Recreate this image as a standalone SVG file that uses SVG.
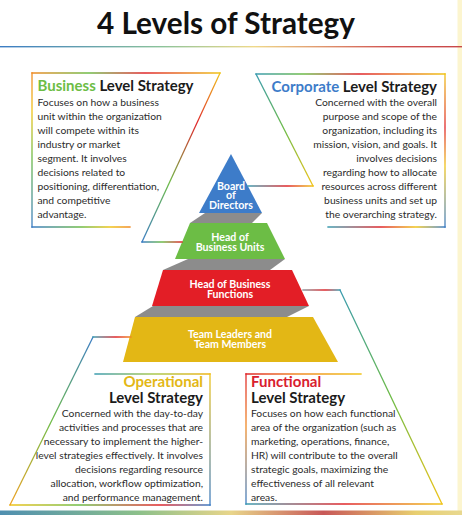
<svg xmlns="http://www.w3.org/2000/svg" width="462" height="515" viewBox="0 0 462 515">
<style>
text{font-family:Lato,"Liberation Sans",sans-serif}
.ttl{font-weight:bold;font-size:31px;fill:#111}
.hd{font-weight:bold;font-size:15px;fill:#1b1b1b}
.bd{font-size:10.3px;fill:#2b2b2b}
.end{text-anchor:end}
.tier{font-weight:bold;font-size:10.6px;fill:#fff;text-anchor:middle}
.ln{fill:none;stroke-width:1.3;stroke-linecap:square}
.cB{fill:#6cbd45}.cC{fill:#3d7cc9}.cO{fill:#e3b715}.cF{fill:#d9202e}
</style>
<defs>
<linearGradient id="gTitle" x1="0" y1="0" x2="462" y2="0" gradientUnits="userSpaceOnUse"><stop offset="0" stop-color="#3b7cc4"/><stop offset="0.35" stop-color="#8cc39a"/><stop offset="0.55" stop-color="#efd98a"/><stop offset="0.85" stop-color="#d05050"/><stop offset="1" stop-color="#c84848"/></linearGradient>
<linearGradient id="gBottom" x1="0" y1="0" x2="462" y2="0" gradientUnits="userSpaceOnUse"><stop offset="0" stop-color="#4f8fb0"/><stop offset="0.3" stop-color="#8cc08a"/><stop offset="0.5" stop-color="#e8d58a"/><stop offset="0.7" stop-color="#c85858"/><stop offset="0.9" stop-color="#e8cf70"/><stop offset="1" stop-color="#e8d890"/></linearGradient>
<linearGradient id="b1" x1="32" y1="0" x2="130" y2="0" gradientUnits="userSpaceOnUse"><stop offset="0" stop-color="#3b7cc4"/><stop offset="0.5" stop-color="#6dbb47"/><stop offset="0.8" stop-color="#f0c419"/><stop offset="1" stop-color="#f08a24"/></linearGradient>
<linearGradient id="b2" x1="0" y1="227" x2="0" y2="73" gradientUnits="userSpaceOnUse"><stop offset="0" stop-color="#3b7cc4"/><stop offset="0.45" stop-color="#6dbb47"/><stop offset="0.75" stop-color="#f0c419"/><stop offset="1" stop-color="#f08a24"/></linearGradient>
<linearGradient id="b3" x1="32" y1="0" x2="220" y2="0" gradientUnits="userSpaceOnUse"><stop offset="0" stop-color="#f08a24"/><stop offset="0.3" stop-color="#6dbb47"/><stop offset="0.6" stop-color="#e0262b"/><stop offset="1" stop-color="#f0c419"/></linearGradient>
<linearGradient id="b4" x1="220" y1="73" x2="142" y2="242" gradientUnits="userSpaceOnUse"><stop offset="0" stop-color="#f0c419"/><stop offset="0.3" stop-color="#e0262b"/><stop offset="0.65" stop-color="#6dbb47"/><stop offset="1" stop-color="#3b7cc4"/></linearGradient>
<linearGradient id="b5" x1="142" y1="0" x2="182" y2="0" gradientUnits="userSpaceOnUse"><stop offset="0" stop-color="#3b7cc4"/><stop offset="0.5" stop-color="#6dbb47"/><stop offset="1" stop-color="#e0262b"/></linearGradient>
<linearGradient id="c1" x1="256" y1="0" x2="445" y2="0" gradientUnits="userSpaceOnUse"><stop offset="0" stop-color="#3b9cb0"/><stop offset="0.25" stop-color="#6dbb47"/><stop offset="0.55" stop-color="#e0262b"/><stop offset="1" stop-color="#f0c419"/></linearGradient>
<linearGradient id="c2" x1="0" y1="74" x2="0" y2="227" gradientUnits="userSpaceOnUse"><stop offset="0" stop-color="#f0c419"/><stop offset="0.35" stop-color="#e0262b"/><stop offset="0.6" stop-color="#f0c419"/><stop offset="1" stop-color="#3b7cc4"/></linearGradient>
<linearGradient id="c3" x1="328" y1="0" x2="445" y2="0" gradientUnits="userSpaceOnUse"><stop offset="0" stop-color="#3b9cb0"/><stop offset="0.45" stop-color="#e0262b"/><stop offset="0.75" stop-color="#f0c419"/><stop offset="1" stop-color="#3b7cc4"/></linearGradient>
<linearGradient id="c4" x1="256" y1="74" x2="313" y2="186" gradientUnits="userSpaceOnUse"><stop offset="0" stop-color="#3b9cb0"/><stop offset="0.5" stop-color="#6dbb47"/><stop offset="1" stop-color="#f0c419"/></linearGradient>
<linearGradient id="c5" x1="248" y1="0" x2="313" y2="0" gradientUnits="userSpaceOnUse"><stop offset="0" stop-color="#3b9cb0"/><stop offset="0.6" stop-color="#e0262b"/><stop offset="1" stop-color="#f0c419"/></linearGradient>
<linearGradient id="o1" x1="95" y1="0" x2="210" y2="0" gradientUnits="userSpaceOnUse"><stop offset="0" stop-color="#3b9cb0"/><stop offset="0.5" stop-color="#a8c850"/><stop offset="1" stop-color="#f0b419"/></linearGradient>
<linearGradient id="o2" x1="0" y1="374" x2="0" y2="505" gradientUnits="userSpaceOnUse"><stop offset="0" stop-color="#f0c419"/><stop offset="1" stop-color="#3b7cc4"/></linearGradient>
<linearGradient id="o3" x1="10" y1="0" x2="210" y2="0" gradientUnits="userSpaceOnUse"><stop offset="0" stop-color="#f0c419"/><stop offset="0.35" stop-color="#6dbb47"/><stop offset="0.75" stop-color="#e0262b"/><stop offset="1" stop-color="#3b7cc4"/></linearGradient>
<linearGradient id="o4" x1="93" y1="337" x2="10" y2="505" gradientUnits="userSpaceOnUse"><stop offset="0" stop-color="#3b7cc4"/><stop offset="0.5" stop-color="#6dbb47"/><stop offset="1" stop-color="#f0a020"/></linearGradient>
<linearGradient id="o5" x1="93" y1="0" x2="131" y2="0" gradientUnits="userSpaceOnUse"><stop offset="0" stop-color="#3b9cb0"/><stop offset="0.6" stop-color="#e0262b"/><stop offset="1" stop-color="#f08a24"/></linearGradient>
<linearGradient id="f1" x1="246" y1="0" x2="361" y2="0" gradientUnits="userSpaceOnUse"><stop offset="0" stop-color="#e0262b"/><stop offset="0.45" stop-color="#f08a24"/><stop offset="1" stop-color="#f0c419"/></linearGradient>
<linearGradient id="f2" x1="0" y1="374" x2="0" y2="504" gradientUnits="userSpaceOnUse"><stop offset="0" stop-color="#e0262b"/><stop offset="0.4" stop-color="#f08a24"/><stop offset="1" stop-color="#3b7cc4"/></linearGradient>
<linearGradient id="f3" x1="246" y1="0" x2="442" y2="0" gradientUnits="userSpaceOnUse"><stop offset="0" stop-color="#3b9cb0"/><stop offset="0.5" stop-color="#e0262b"/><stop offset="1" stop-color="#f0c419"/></linearGradient>
<linearGradient id="f4" x1="340" y1="290" x2="442" y2="504" gradientUnits="userSpaceOnUse"><stop offset="0" stop-color="#3b9cb0"/><stop offset="0.5" stop-color="#6dbb47"/><stop offset="1" stop-color="#f0c419"/></linearGradient>
<linearGradient id="f5" x1="303" y1="0" x2="340" y2="0" gradientUnits="userSpaceOnUse"><stop offset="0" stop-color="#8a9aa0"/><stop offset="0.6" stop-color="#e0262b"/><stop offset="1" stop-color="#3b9cb0"/></linearGradient>
</defs>

<rect x="0" y="0" width="462" height="515" fill="#ffffff"/>
<rect x="457.5" y="0" width="4.5" height="515" fill="#fcf5cf"/>
<rect x="0" y="510.5" width="462" height="4.5" fill="url(#gBottom)"/>

<g id="title">
<text class="ttl" x="226" y="34" text-anchor="middle" textLength="258" lengthAdjust="spacingAndGlyphs">4 Levels of Strategy</text>
<rect x="0" y="46" width="462" height="1.4" fill="url(#gTitle)"/>
</g>

<g id="pyramid">
<polygon points="205,213 262,213 252,223 190,223" fill="#8c8c8c"/>
<polygon points="188,259 285,259 270,270 163,270" fill="#8c8c8c"/>
<polygon points="153,306 309,306 287,317 135,317" fill="#8c8c8c"/>
<g id="board">
<polygon points="231,154 262,213 199,213" fill="#3d7cc9"/>
<text class="tier" x="231" y="190"><tspan x="231">Board</tspan><tspan x="231" dy="9">of</tspan><tspan x="231" dy="9.5">Directors</tspan></text>
</g>
<g id="head-units">
<polygon points="190,223 267,223 285,259 175,259" fill="#6cbd45"/>
<text class="tier" x="230" y="241"><tspan x="230">Head of</tspan><tspan x="230" dy="10">Business Units</tspan></text>
</g>
<g id="head-functions">
<polygon points="163,270 292,270 309,306 152,306" fill="#e31e26"/>
<text class="tier" x="230" y="288"><tspan x="230">Head of Business</tspan><tspan x="230" dy="10">Functions</tspan></text>
</g>
<g id="team">
<polygon points="135,317 313,317 338,362 123,362" fill="#e3b715"/>
<text class="tier" x="230" y="338"><tspan x="230">Team Leaders and</tspan><tspan x="230" dy="10">Team Members</tspan></text>
</g>
</g>

<g id="business">
<line class="ln" x1="130" y1="227" x2="32" y2="227" stroke="url(#b1)"/>
<line class="ln" x1="32" y1="227" x2="32" y2="73" stroke="url(#b2)"/>
<line class="ln" x1="32" y1="73" x2="220" y2="73" stroke="url(#b3)"/>
<text class="hd" x="37.5" y="91"><tspan class="cB">Business</tspan> Level Strategy</text>
<text class="bd" x="37.5" y="106">Focuses on how a business</text>
<text class="bd" x="37.5" y="120">unit within the organization</text>
<text class="bd" x="37.5" y="134">will compete within its</text>
<text class="bd" x="37.5" y="148">industry or market</text>
<text class="bd" x="37.5" y="162">segment. It involves</text>
<text class="bd" x="37.5" y="176">decisions related to</text>
<text class="bd" x="37.5" y="190">positioning, differentiation,</text>
<text class="bd" x="37.5" y="204">and competitive</text>
<text class="bd" x="37.5" y="218">advantage.</text>
</g>

<g id="corporate">
<line class="ln" x1="256" y1="74" x2="445" y2="74" stroke="url(#c1)"/>
<line class="ln" x1="445" y1="74" x2="445" y2="227" stroke="url(#c2)"/>
<line class="ln" x1="445" y1="227" x2="328" y2="227" stroke="url(#c3)"/>
<text class="hd end" x="437" y="92"><tspan class="cC">Corporate</tspan> Level Strategy</text>
<text class="bd end" x="437" y="106">Concerned with the overall</text>
<text class="bd end" x="437" y="120">purpose and scope of the</text>
<text class="bd end" x="437" y="134">organization, including its</text>
<text class="bd end" x="437" y="148">mission, vision, and goals. It</text>
<text class="bd end" x="437" y="162">involves decisions</text>
<text class="bd end" x="437" y="176">regarding how to allocate</text>
<text class="bd end" x="437" y="190">resources across different</text>
<text class="bd end" x="437" y="204">business units and set up</text>
<text class="bd end" x="437" y="218">the overarching strategy.</text>
</g>

<g id="operational">
<line class="ln" x1="95" y1="374" x2="210" y2="374" stroke="url(#o1)"/>
<line class="ln" x1="210" y1="374" x2="210" y2="505" stroke="url(#o2)"/>
<line class="ln" x1="210" y1="505" x2="10" y2="505" stroke="url(#o3)"/>
<text class="hd end" x="203" y="387"><tspan class="cO">Operational</tspan></text>
<text class="hd end" x="203" y="403">Level Strategy</text>
<text class="bd end" x="203" y="417">Concerned with the day-to-day</text>
<text class="bd end" x="203" y="431">activities and processes that are</text>
<text class="bd end" x="203" y="445">necessary to implement the higher-</text>
<text class="bd end" x="203" y="459">level strategies effectively. It involves</text>
<text class="bd end" x="203" y="472.5">decisions regarding resource</text>
<text class="bd end" x="203" y="486.5">allocation, workflow optimization,</text>
<text class="bd end" x="203" y="500.5">and performance management.</text>
</g>

<g id="functional">
<line class="ln" x1="361" y1="374" x2="246" y2="374" stroke="url(#f1)"/>
<line class="ln" x1="246" y1="374" x2="246" y2="504" stroke="url(#f2)"/>
<line class="ln" x1="246" y1="504" x2="442" y2="504" stroke="url(#f3)"/>
<text class="hd" x="251" y="387"><tspan class="cF">Functional</tspan></text>
<text class="hd" x="251" y="403">Level Strategy</text>
<text class="bd" x="251" y="417">Focuses on how each functional</text>
<text class="bd" x="251" y="431">area of the organization (such as</text>
<text class="bd" x="251" y="445">marketing, operations, finance,</text>
<text class="bd" x="251" y="459">HR) will contribute to the overall</text>
<text class="bd" x="251" y="472.5">strategic goals, maximizing the</text>
<text class="bd" x="251" y="486.5">effectiveness of all relevant</text>
<text class="bd" x="251" y="500.5">areas.</text>
</g>

<g id="connectors">
<polyline class="ln" points="220,73 142,242" stroke="url(#b4)"/>
<line class="ln" x1="142" y1="242" x2="182" y2="242" stroke="url(#b5)"/>
<polyline class="ln" points="256,74 313,186" stroke="url(#c4)"/>
<line class="ln" x1="313" y1="186" x2="248" y2="186" stroke="url(#c5)"/>
<polyline class="ln" points="10,505 93,337" stroke="url(#o4)"/>
<line class="ln" x1="93" y1="337" x2="131" y2="337" stroke="url(#o5)"/>
<polyline class="ln" points="442,504 340,290" stroke="url(#f4)"/>
<line class="ln" x1="340" y1="290" x2="303" y2="290" stroke="url(#f5)"/>
</g>
</svg>
